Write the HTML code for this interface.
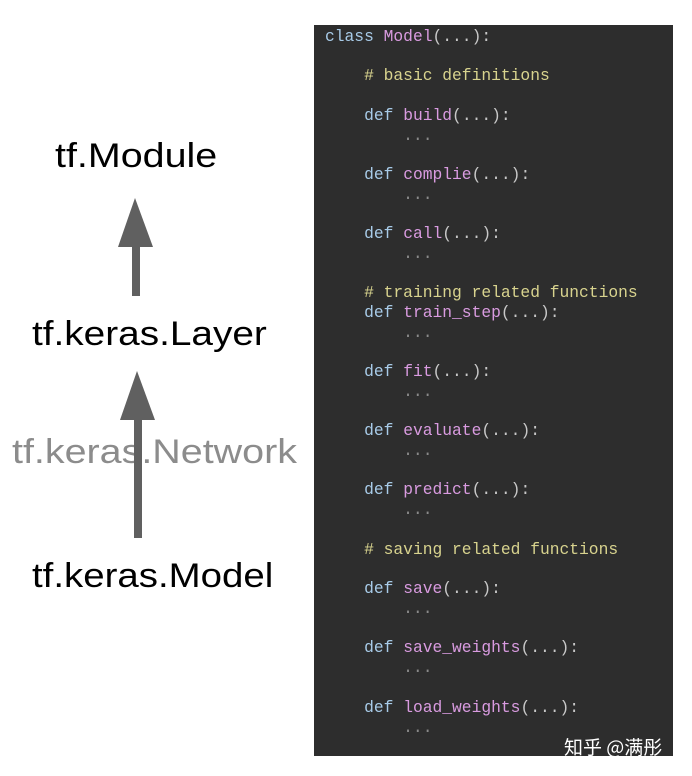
<!DOCTYPE html>
<html><head><meta charset="utf-8"><style>
html,body{margin:0;padding:0;background:#fff;width:692px;height:776px;overflow:hidden;position:relative}
.lbl{position:absolute;font-family:"Liberation Sans",sans-serif;font-size:34px;color:#000;white-space:nowrap;transform-origin:0 0}
#panel{position:absolute;left:314px;top:25px;width:359px;height:731px;background:#2d2d2d}
.c{position:absolute;left:325px;font-family:"Liberation Mono",monospace;font-size:16.3px;line-height:20px;color:#c8c8c8;white-space:pre}
.k{color:#a8cbe8}.f{color:#d99be0}.m{color:#d8d38e}.d{color:#8a8a8a}
#wm{position:absolute;left:564px;top:733px;font-family:"Noto Sans CJK SC",sans-serif;font-size:19px;color:#fff}
</style></head><body>
<div class="lbl" style="left:55px;top:137px;transform:scaleX(1.16)">tf.Module</div>
<div class="lbl" style="left:32px;top:315px;transform:scaleX(1.14)">tf.keras.Layer</div>
<div class="lbl" style="left:12px;top:433px;color:#8c8c8c;transform:scaleX(1.16)">tf.keras.Network</div>
<div class="lbl" style="left:32px;top:557px;transform:scaleX(1.13)">tf.keras.Model</div>
<svg width="692" height="776" style="position:absolute;left:0;top:0">
<polygon points="135,198 118,247 153,247" fill="#606060"/>
<rect x="132" y="245" width="8" height="51" fill="#606060"/>
<polygon points="137,371 120,420 155,420" fill="#606060"/>
<rect x="134" y="418" width="8" height="120" fill="#606060"/>
</svg>
<div id="panel"></div>
<div class="c" style="top:27px"><span class="k">class</span> <span class="f">Model</span>(...):</div>
<div class="c" style="top:66px">    <span class="m"># basic definitions</span></div>
<div class="c" style="top:106px">    <span class="k">def</span> <span class="f">build</span>(...):</div>
<div class="c d" style="top:126px">        ...</div>
<div class="c" style="top:165px">    <span class="k">def</span> <span class="f">complie</span>(...):</div>
<div class="c d" style="top:185px">        ...</div>
<div class="c" style="top:224px">    <span class="k">def</span> <span class="f">call</span>(...):</div>
<div class="c d" style="top:244px">        ...</div>
<div class="c" style="top:283px">    <span class="m"># training related functions</span></div>
<div class="c" style="top:303px">    <span class="k">def</span> <span class="f">train_step</span>(...):</div>
<div class="c d" style="top:323px">        ...</div>
<div class="c" style="top:362px">    <span class="k">def</span> <span class="f">fit</span>(...):</div>
<div class="c d" style="top:382px">        ...</div>
<div class="c" style="top:421px">    <span class="k">def</span> <span class="f">evaluate</span>(...):</div>
<div class="c d" style="top:441px">        ...</div>
<div class="c" style="top:480px">    <span class="k">def</span> <span class="f">predict</span>(...):</div>
<div class="c d" style="top:500px">        ...</div>
<div class="c" style="top:540px">    <span class="m"># saving related functions</span></div>
<div class="c" style="top:579px">    <span class="k">def</span> <span class="f">save</span>(...):</div>
<div class="c d" style="top:599px">        ...</div>
<div class="c" style="top:638px">    <span class="k">def</span> <span class="f">save_weights</span>(...):</div>
<div class="c d" style="top:658px">        ...</div>
<div class="c" style="top:698px">    <span class="k">def</span> <span class="f">load_weights</span>(...):</div>
<div class="c d" style="top:718px">        ...</div>
<div id="wm">知乎 @满彤</div>
</body></html>
